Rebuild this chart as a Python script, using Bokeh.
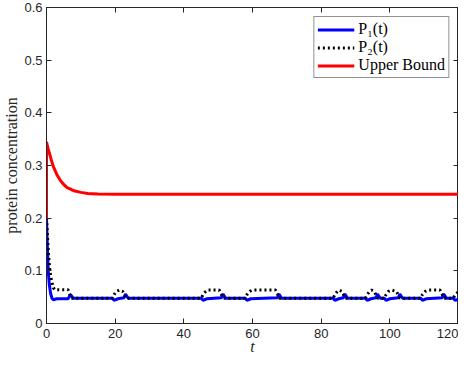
from bokeh.plotting import figure
from bokeh.models import (Range1d, FixedTicker, LinearAxis, Legend, LegendItem,
                          CustomJSTickFormatter)
from bokeh.embed import file_html
from bokeh.resources import INLINE

# ---------------- data ----------------
x_ticks = [0, 20, 40, 60, 80, 100, 120]
y_ticks = [0, 0.1, 0.2, 0.3, 0.4, 0.5, 0.6]

t_ub = [0, 0, 0.25, 0.5, 1, 1.5, 2, 3, 4, 5, 6, 7, 8, 10, 12, 15, 20, 120]
ub = [0.200, 0.345, 0.338, 0.331, 0.320, 0.308, 0.298, 0.283, 0.272, 0.264,
      0.258, 0.255, 0.252, 0.249, 0.247, 0.246, 0.2455, 0.2455]

t_p1 = [0, 0.2, 0.5, 0.8, 1.2, 1.6, 2.0, 2.5, 3.0, 6.3, 7.0, 7.8,
        19.2, 19.7, 20.8, 22.6, 23.0, 23.8,
        45.1, 45.6, 46.7, 51.0, 51.4, 52.2,
        57.9, 58.4, 59.5, 67.3, 67.7, 68.5,
        83.5, 84.0, 85.1, 86.5, 86.9, 87.7,
        92.9, 93.4, 94.5, 96.0, 96.4, 97.2,
        98.4, 98.9, 100.0, 102.5, 102.9, 103.7,
        109.0, 109.5, 110.6, 115.3, 115.7, 116.5,
        118.5, 119.0, 120.0]
p1 = [0.200, 0.156, 0.100, 0.075, 0.057, 0.048, 0.045, 0.046, 0.047, 0.047, 0.055, 0.048,
      0.048, 0.044, 0.047, 0.049, 0.056, 0.048,
      0.048, 0.044, 0.047, 0.049, 0.056, 0.048,
      0.048, 0.044, 0.047, 0.049, 0.056, 0.048,
      0.048, 0.044, 0.047, 0.049, 0.056, 0.048,
      0.048, 0.044, 0.047, 0.049, 0.056, 0.048,
      0.048, 0.044, 0.047, 0.049, 0.056, 0.048,
      0.048, 0.044, 0.047, 0.049, 0.056, 0.048,
      0.048, 0.044, 0.046]

t_p2 = [0, 0.3, 0.6, 1.0, 1.5, 2.0, 2.4, 6.3, 6.8, 7.2,
        19.2, 19.7, 20.4, 21.2, 22.2, 22.7, 23.2,
        45.1, 45.6, 46.4, 47.2, 50.3, 50.9, 51.5,
        57.9, 58.4, 59.2, 60.0, 66.7, 67.3, 67.8,
        83.5, 84.0, 84.7, 85.3, 86.0, 86.5, 87.0,
        92.9, 93.4, 94.1, 94.7, 95.4, 95.9, 96.5,
        98.4, 98.9, 99.6, 100.5, 101.9, 102.4, 103.0,
        109.0, 109.5, 110.3, 111.1, 114.6, 115.2, 115.8,
        118.5, 119.0, 120.0]
p2 = [0.200, 0.165, 0.130, 0.100, 0.080, 0.068, 0.064, 0.064, 0.055, 0.048,
      0.048, 0.055, 0.061, 0.0635, 0.061, 0.055, 0.048,
      0.048, 0.055, 0.061, 0.0635, 0.0635, 0.056, 0.048,
      0.048, 0.055, 0.061, 0.0635, 0.0635, 0.056, 0.048,
      0.048, 0.055, 0.061, 0.0635, 0.061, 0.055, 0.048,
      0.048, 0.055, 0.061, 0.0635, 0.061, 0.055, 0.048,
      0.048, 0.055, 0.061, 0.0635, 0.061, 0.055, 0.048,
      0.048, 0.055, 0.061, 0.0635, 0.0635, 0.056, 0.048,
      0.048, 0.055, 0.060]

labels = ["P\u2081(t)", "P\u2082(t)", "Upper Bound"]
x_label = "t"
y_label = "protein concentration"

# ---------------- figure ----------------
AX = "#262626"
p = figure(width=458, height=357, x_range=Range1d(0, 120), y_range=Range1d(0, 0.6),
           output_backend="svg", toolbar_location=None,
           min_border_left=0, min_border_right=0, min_border_top=7, min_border_bottom=0)
p.grid.visible = False
p.outline_line_color = AX
p.outline_line_width = 1
p.background_fill_color = "white"
p.border_fill_color = "white"

fmt = CustomJSTickFormatter(code="return String(Math.round(tick*10)/10);")
blank = CustomJSTickFormatter(code="return '';")

for ax, ticks in ((p.xaxis[0], x_ticks), (p.yaxis[0], y_ticks)):
    ax.ticker = FixedTicker(ticks=ticks)
    ax.formatter = fmt
    ax.major_tick_in = 5
    ax.major_tick_out = 0
    ax.minor_tick_line_color = None
    ax.axis_line_color = AX
    ax.major_tick_line_color = AX
    ax.major_label_text_font = "Liberation Sans"
    ax.major_label_text_font_size = "13px"
    ax.major_label_text_color = AX
    ax.axis_label_text_font = "Liberation Serif"
    ax.axis_label_text_font_size = "16px"
    ax.axis_label_text_color = AX

p.xaxis[0].axis_label = x_label
p.xaxis[0].axis_label_text_font_style = "italic"
p.xaxis[0].major_label_standoff = 5
p.xaxis[0].axis_label_standoff = -3
p.yaxis[0].axis_label = y_label
p.yaxis[0].axis_label_text_font_style = "normal"
p.yaxis[0].major_label_standoff = 4
p.yaxis[0].axis_label_standoff = 1

for loc, ticks in (("above", x_ticks), ("right", y_ticks)):
    ax = LinearAxis(ticker=FixedTicker(ticks=ticks), formatter=blank,
                    major_tick_in=5, major_tick_out=0,
                    minor_tick_line_color=None, axis_line_color=AX,
                    major_tick_line_color=AX, major_label_text_color=None,
                    major_label_text_font_size="1px", major_label_standoff=0)
    p.add_layout(ax, loc)

r1 = p.line(t_p1, p1, line_color="#0000ff", line_width=3)
r2 = p.line(t_p2, p2, line_color="black", line_width=3, line_dash="2 3")
r3 = p.line(t_ub, ub, line_color="#ff0000", line_width=3)

legend = Legend(items=[LegendItem(label=labels[0], renderers=[r1]),
                       LegendItem(label=labels[1], renderers=[r2]),
                       LegendItem(label=labels[2], renderers=[r3])],
                location="top_right", margin=9, padding=3, spacing=0,
                label_height=17, glyph_height=17, glyph_width=37, label_standoff=4,
                label_text_font="Liberation Serif", label_text_font_size="16px",
                label_text_color="black", border_line_color=AX, border_line_width=1,
                background_fill_alpha=1)
p.add_layout(legend, "center")

open("out.html", "w").write(file_html(p, INLINE))
